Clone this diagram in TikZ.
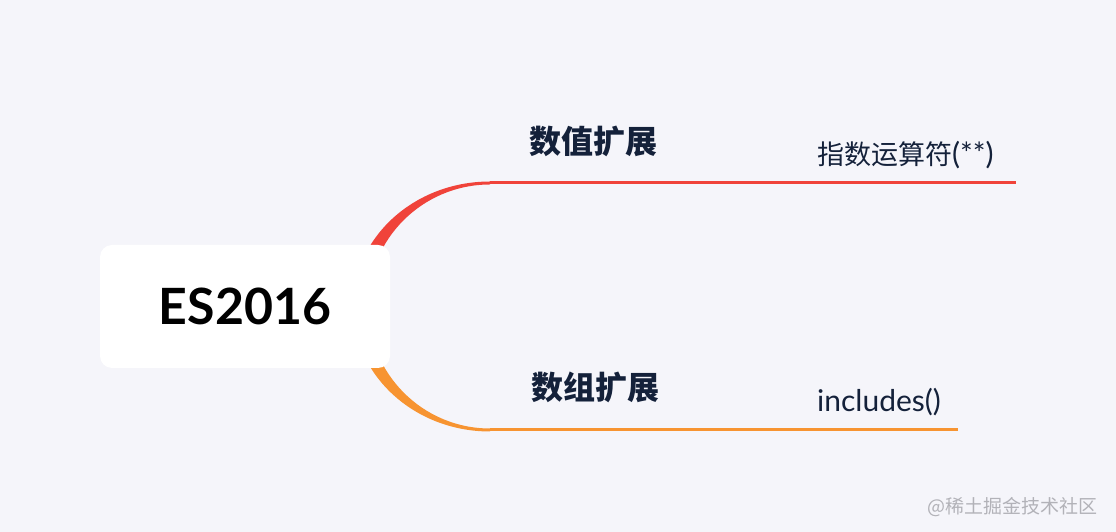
\documentclass[tikz,border=0pt]{standalone}
\usepackage{fontspec}
\setmainfont{Lato}
\newfontfamily\cjk{Noto Sans CJK SC}
\definecolor{bgc}{RGB}{245,245,250}
\definecolor{redc}{RGB}{240,67,58}
\definecolor{orgc}{RGB}{247,148,49}
\definecolor{navy}{RGB}{20,33,58}
\definecolor{wmc}{RGB}{178,178,184}
\tikzset{
  rootbox/.style={fill=white,rounded corners=12pt,minimum width=290pt,minimum height=123pt,inner sep=0pt,
    font=\fontsize{50}{60}\selectfont\bfseries,text=black},
  mainlabel/.style={anchor=west,inner sep=0pt,text=navy,font=\cjk\bfseries\fontsize{32}{38}\selectfont},
  leaflabel/.style={anchor=west,inner sep=0pt,text=navy,font=\fontsize{30}{34}\selectfont},
  thinline/.style={line width=3pt},
}
\begin{document}
\begin{tikzpicture}[x=1pt,y=1pt]
\useasboundingbox (0,0) rectangle (1116,532);
\fill[bgc] (0,0) rectangle (1116,532);
% branch curves (tapered), center of ellipses at (490,226)
\coordinate (c1) at (490,349);
\coordinate (c2) at (490,102);
\fill[redc] (353,226) arc[start angle=180,end angle=90,x radius=137,y radius=124.5]
  -- (490,347.5) arc[start angle=90,end angle=180,x radius=122,y radius=121.5] -- cycle;
\fill[orgc] (353,226) arc[start angle=180,end angle=270,x radius=137,y radius=125.5]
  -- (490,103.5) arc[start angle=270,end angle=180,x radius=122,y radius=122.5] -- cycle;
\coordinate (e1) at (1016,349);
\coordinate (e2) at (958,102);
\draw[thinline,redc] (c1) -- (e1);
\draw[thinline,orgc] (c2) -- (e2);
% root
\node[rootbox] (root) at (245,225.5) {ES2016};
% labels
\node[mainlabel] (b1) at (529,391) {数值扩展};
\node[mainlabel] (b2) at (531,145) {数组扩展};
\node[leaflabel] (l1) at (817,376.5) {{\cjk\fontsize{27}{32}\selectfont 指数运算符}(**)};
\node[leaflabel] (l2) at (817,129.5) {includes()};
% watermark
\node[anchor=west,inner sep=0pt,text=wmc,font=\cjk\fontsize{19}{23}\selectfont] (wm) at (927,25) {@稀土掘金技术社区};
\end{tikzpicture}
\end{document}
